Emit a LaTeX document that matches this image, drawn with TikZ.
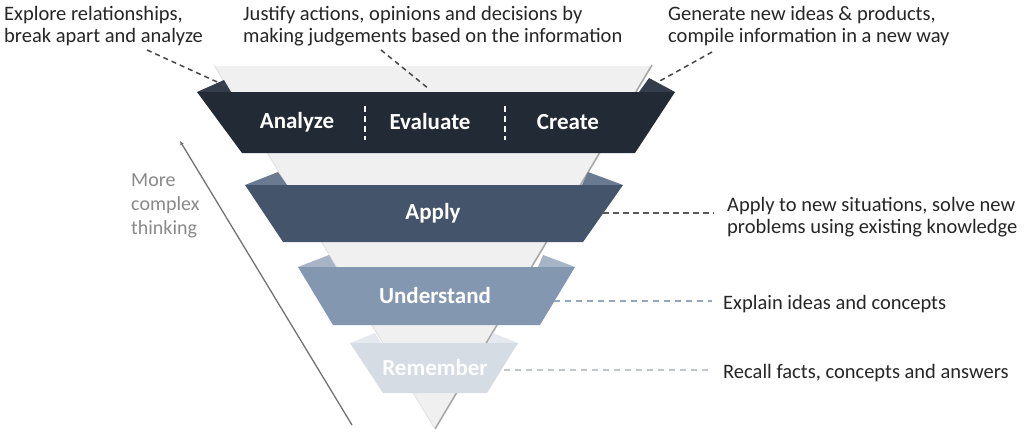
\documentclass[tikz,border=0pt]{standalone}
\usepackage{fontspec}
\setmainfont{Carlito}
\usetikzlibrary{arrows.meta}
\definecolor{bandA}{HTML}{222A35}
\definecolor{bandB}{HTML}{44546A}
\definecolor{bandC}{HTML}{8497B0}
\definecolor{bandD}{HTML}{D6DCE4}
\definecolor{foldA}{HTML}{343D4C}
\definecolor{foldB}{HTML}{6A7A90}
\definecolor{foldC}{HTML}{A7B4C6}
\definecolor{foldD}{HTML}{E5E8EE}
\definecolor{funnel}{HTML}{F0F0F0}
\definecolor{funneledge}{HTML}{A8A8A8}
\definecolor{txt}{HTML}{262626}
\definecolor{graytxt}{HTML}{8A8A8A}
\begin{document}
\begin{tikzpicture}[x=1pt,y=-1pt,
  smalltext/.style={font=\fontsize{20.5}{22.5}\selectfont, text=txt, inner sep=0pt, align=left},
  bandlabel/.style={font=\fontsize{23}{26}\selectfont\bfseries, text=white, inner sep=0pt},
  conntop/.style={draw=txt!85, line width=1.5pt, dash pattern=on 5pt off 4pt},
  connB/.style={draw=black!65, line width=1.3pt, dash pattern=on 6pt off 4pt},
  connC/.style={draw=bandC!85, line width=1.3pt, dash pattern=on 6pt off 5pt},
  connD/.style={draw=bandD!90!black, line width=1.2pt, dash pattern=on 6pt off 5pt},
  sepline/.style={draw=white, line width=1.3pt, dash pattern=on 6pt off 4pt},
  arrowline/.style={draw=black!55, line width=1.3pt, -{Latex[length=4pt,width=4pt]}}
]
\useasboundingbox (0,0) rectangle (1025,436);
\fill[white] (0,0) rectangle (1025,436);

% light funnel behind the bands
\fill[funnel] (214,65) -- (652,65) -- (435,429) -- cycle;
\draw[funneledge, line width=1.6pt] (652,65) -- (435,429);
\draw[black!12, line width=0.8pt] (214,65) -- (435,429);
\draw[white, line width=1pt] (215,65.5) -- (651,65.5);

% Analyze / Evaluate / Create band
\fill[foldA] (197,92) -- (224,80) -- (231,92) -- cycle;
\fill[foldA] (675,92) -- (649,78) -- (639,92) -- cycle;
\fill[bandA] (197,92) -- (675,92) -- (635,153) -- (242,153) -- cycle;
\draw[sepline] (365,106) -- (365,140);
\draw[sepline] (505,106) -- (505,140);
\node[bandlabel] (analyze) at (297,122) {Analyze};
\node[bandlabel] (evaluate) at (430,122) {Evaluate};
\node[bandlabel] (create) at (568,122) {Create};

% Apply band
\fill[foldB] (245,185) -- (278,172) -- (287,185) -- cycle;
\fill[foldB] (623,185) -- (588,172) -- (582,185) -- cycle;
\fill[bandB] (245,185) -- (623,185) -- (583,242) -- (283,242) -- cycle;
\node[bandlabel] (apply) at (433,213) {Apply};

% Understand band
\fill[foldC] (298,267) -- (329,255) -- (336,267) -- cycle;
\fill[foldC] (575,267) -- (543,255) -- (538,267) -- cycle;
\fill[bandC] (298,267) -- (575,267) -- (540,325) -- (333,325) -- cycle;
\node[bandlabel] (understand) at (435,296) {Understand};

% Remember band
\fill[foldD] (350,343) -- (375,333) -- (381,343) -- cycle;
\fill[foldD] (518,343) -- (493,333) -- (488,343) -- cycle;
\fill[bandD] (350,343) -- (518,343) -- (487,393) -- (383,393) -- cycle;
\node[bandlabel, text=white!94!bandD] (remember) at (435,368) {Remember};

% texts
\node[smalltext, anchor=north west] (explore) at (4,6) {Explore relationships,\\break apart and analyze};
\node[smalltext, anchor=north west] (justify) at (243,6) {Justify actions, opinions and decisions by\\making judgements based on the information};
\node[smalltext, anchor=north west] (generate) at (668,6) {Generate new ideas \& products,\\compile information in a new way};
\node[smalltext, anchor=north west] (applytxt) at (727,197) {Apply to new situations, solve new\\problems using existing knowledge};
\node[smalltext, anchor=base west] (explaintxt) at (723,309) {Explain ideas and concepts};
\node[smalltext, anchor=base west] (recalltxt) at (723,378) {Recall facts, concepts and answers};
\node[font=\fontsize{20}{24}\selectfont, text=graytxt, inner sep=0pt, align=left, anchor=north west] (complex) at (131,173) {More\\complex\\thinking};

% connector end points
\coordinate (exploreEnd) at (147,50);
\coordinate (analyzeTop) at (226,86);
\coordinate (justifyEnd) at (381,50);
\coordinate (evaluateTop) at (429,89);
\coordinate (generateEnd) at (712,52);
\coordinate (createTop) at (658,82);
\coordinate (applyEdge) at (603,213);
\coordinate (applyTxtEnd) at (714,213);
\coordinate (understandEdge) at (554,301);
\coordinate (explainEnd) at (712,301);
\coordinate (rememberEdge) at (504,370);
\coordinate (recallEnd) at (712,370);
\coordinate (arrowStart) at (352,425);
\coordinate (arrowTip) at (180,141);

\draw[conntop] (exploreEnd) -- (analyzeTop);
\draw[conntop] (justifyEnd) -- (evaluateTop);
\draw[conntop] (generateEnd) -- (createTop);
\draw[connB] (applyEdge) -- (applyTxtEnd);
\draw[connC] (understandEdge) -- (explainEnd);
\draw[connD] (rememberEdge) -- (recallEnd);
\draw[arrowline] (arrowStart) -- (arrowTip);
\end{tikzpicture}
\end{document}
